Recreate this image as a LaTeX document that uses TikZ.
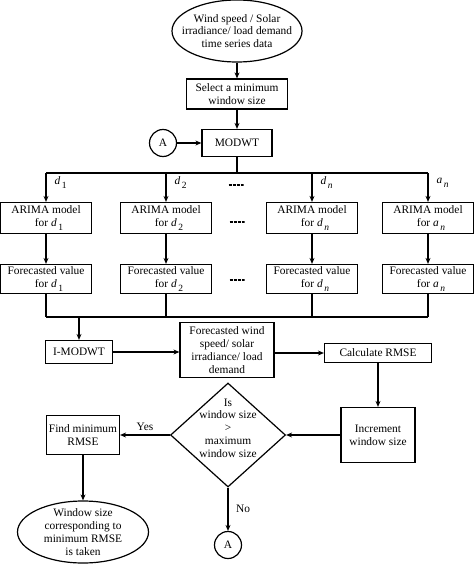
\documentclass[tikz,border=0pt]{standalone}
\usepackage{fontspec}
\setmainfont{Liberation Serif}
\usetikzlibrary{shapes.geometric,arrows.meta}

\newcommand{\lowsub}[1]{\kern1.5pt\raisebox{-4pt}{\fontsize{9.5}{9.5}\selectfont #1}}

\begin{document}
\begin{tikzpicture}
  [x=1pt,y=-1pt,line width=1.2pt,>={Stealth[length=6pt,width=5pt]},
   every node/.style={font=\fontsize{11.4}{12.8}\selectfont,align=center,inner sep=0pt},
   box/.style={draw,rectangle},
   oval/.style={draw,ellipse,inner xsep=-12pt},
   conn/.style={draw,circle,minimum size=27pt},
   dec/.style={draw,diamond,minimum width=115pt,minimum height=104pt},
   dots/.style={minimum width=15pt,minimum height=3pt,
     path picture={\draw[line width=2.6pt,dash pattern=on 3pt off 1pt]
       (path picture bounding box.west) -- (path picture bounding box.east);}}]
  \useasboundingbox (0,0) rectangle (474,564);

  \node[oval,minimum width=130pt,minimum height=62pt] (data) at (237,31) {Wind speed / Solar\\irradiance/ load demand\\time series data};
  \node[box,minimum width=101pt,minimum height=30pt] (win) at (237,94) {Select a minimum\\window size};
  \node[box,minimum width=70pt,minimum height=27pt] (modwt) at (237,143) {MODWT};
  \node[conn] (a1) at (163,143) {A};

  \foreach \i/\x/\v/\s in {1/46/d/1, 2/166/d/2, 3/312/d/{\textit{n}}, 4/428/a/{\textit{n}}} {
    \node[box,minimum width=91pt,minimum height=31pt] (ar\i) at (\x,218) {ARIMA model\\\hspace*{6pt}for \textit{\v}\lowsub{\s}};
    \node[box,minimum width=91pt,minimum height=29pt] (fv\i) at (\x,279) {Forecasted value\\\hspace*{6pt}for \textit{\v}\lowsub{\s}};
    \node[anchor=west] (lab\i) at (\x+8,183) {\textit{\v}\lowsub{\s}};
  }
  \node[dots] (dt1) at (236,185) {};
  \node[dots] (dt2) at (237,222) {};
  \node[dots] (dt3) at (237,280) {};

  \node[box,minimum width=67pt,minimum height=23pt] (imodwt) at (79,352) {I-MODWT};
  \node[box,minimum width=94pt,minimum height=55pt] (fcast) at (227,350) {Forecasted wind\\speed/ solar\\irradiance/ load\\demand};
  \node[box,minimum width=107pt,minimum height=19pt] (rmse) at (378,353) {Calculate RMSE};
  \node[box,minimum width=74pt,minimum height=55pt] (inc) at (378,435) {Increment\\window size};
  \node[dec] (check) at (228,435) {};
  \node (checktext) at (228,428) {Is\\window size\\>\\maximum\\window size};
  \node[box,minimum width=73pt,minimum height=39pt] (findmin) at (83,435) {Find minimum\\RMSE};
  \node[oval,inner ysep=-8pt,minimum width=131pt,minimum height=62pt] (result) at (83,532) {Window size\\corresponding to\\minimum RMSE\\is taken};
  \node[conn] (a2) at (228,545) {A};
  \node (yes) at (145,427) {Yes};
  \node (no) at (243,509) {No};

  % split into the levels
  \coordinate (split) at (237,173);
  \draw (modwt) -- (split);
  \draw (ar1 |- split) -- (ar4 |- split);
  \foreach \i in {1,...,4} {
    \draw[->] (ar\i |- split) -- (ar\i);
    \draw[->] (ar\i) -- (fv\i);
  }

  % join the forecasts
  \coordinate (join) at (79,317);
  \foreach \i in {1,...,4}
    \draw (fv\i) -- (fv\i |- join);
  \draw (fv1 |- join) -- (fv4 |- join);
  \draw[->] (join) -- (imodwt);

  \draw[->] (imodwt) -- (imodwt -| fcast.west);
  \draw[->] (fcast.east |- rmse) -- (rmse);

  \foreach \from/\to in {data/win,win/modwt,a1/modwt,rmse/inc,inc/check,check/findmin,findmin/result,check/a2}
    \draw[->] (\from) -- (\to);

\end{tikzpicture}
\end{document}
